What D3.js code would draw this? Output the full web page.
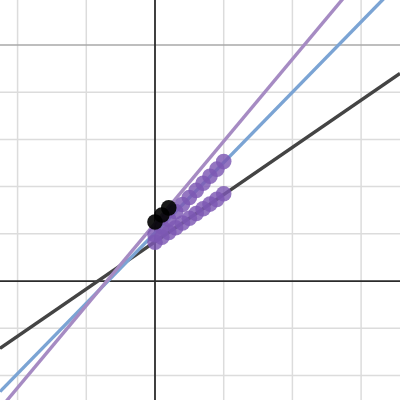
<!DOCTYPE html>
<html><head><meta charset="utf-8">
<script src="https://cdn.jsdelivr.net/npm/d3@7"></script>
<style>html,body{margin:0;padding:0;background:#fff;}svg{display:block;}</style>
</head><body>
<script>
// Data (x in grid units, y in grid units)
const xDomain = [-2.256, 3.566];
const yDomain = [-2.52, 5.953];
const xGridTicks = [-2, -1, 0, 1, 2, 3];
const yMinorTicks = [-2, -1, 1, 2, 3, 4];
const yMajorTicks = [5];
const pointX = [0, 0.1, 0.2, 0.3, 0.4, 0.5, 0.6, 0.7, 0.8, 0.9, 1.0];
const upperY = [0.98, 1.15, 1.31, 1.47, 1.62, 1.77, 1.92, 2.07, 2.22, 2.37, 2.53];
const lowerY = [0.82, 0.93, 1.03, 1.13, 1.23, 1.33, 1.43, 1.53, 1.63, 1.73, 1.85];
const blackX = [0, 0.1, 0.2];
const blackY = [1.25, 1.40, 1.55];
const lineNames = ["black", "blue", "purple"];
const lineIntercepts = [0.83, 1.02, 1.22];
const lineSlopes = [1.0, 1.49, 1.74];
const lineColors = ["#444444", "#7ba4d4", "#a68bc3"];

const W = 400, H = 400;
const x = d3.scaleLinear().domain(xDomain).range([0, W]);
const y = d3.scaleLinear().domain(yDomain).range([H, 0]);

const svg = d3.select("body").append("svg").attr("width", W).attr("height", H);
svg.append("rect").attr("width", W).attr("height", H).attr("fill", "#fff");

// grid
svg.append("g").selectAll("line").data(xGridTicks.filter(d => d !== 0)).join("line")
  .attr("x1", d => x(d)).attr("x2", d => x(d)).attr("y1", 0).attr("y2", H)
  .attr("stroke", "#dcdcdc").attr("stroke-width", 1.5);
svg.append("g").selectAll("line").data(yMinorTicks).join("line")
  .attr("y1", d => y(d)).attr("y2", d => y(d)).attr("x1", 0).attr("x2", W)
  .attr("stroke", "#dcdcdc").attr("stroke-width", 1.5);
svg.append("g").selectAll("line").data(yMajorTicks).join("line")
  .attr("y1", d => y(d)).attr("y2", d => y(d)).attr("x1", 0).attr("x2", W)
  .attr("stroke", "#a8a8a8").attr("stroke-width", 1.5);

// axes
svg.append("line").attr("x1", x(0)).attr("x2", x(0)).attr("y1", 0).attr("y2", H)
  .attr("stroke", "#2b2b2b").attr("stroke-width", 1.8);
svg.append("line").attr("y1", y(0)).attr("y2", y(0)).attr("x1", 0).attr("x2", W)
  .attr("stroke", "#2b2b2b").attr("stroke-width", 1.8);

const pts = pointX.map((d, i) => ({x: d, y: upperY[i]})).concat(pointX.map((d, i) => ({x: d, y: lowerY[i]})));

// lines
const lineData = lineNames.map((n, i) => ({name: n, b: lineIntercepts[i], m: lineSlopes[i], c: lineColors[i]}));
const lineGen = d3.line().x(d => x(d[0])).y(d => y(d[1]));
svg.append("g").selectAll("path").data(lineData).join("path")
  .attr("d", d => lineGen([[xDomain[0], d.b + d.m * xDomain[0]], [xDomain[1], d.b + d.m * xDomain[1]]]))
  .attr("stroke", d => d.c).attr("stroke-width", 3.4).attr("fill", "none");

svg.append("g").selectAll("circle").data(pts).join("circle")
  .attr("cx", d => x(d.x)).attr("cy", d => y(d.y)).attr("r", 7.8)
  .attr("fill", "#7d58b3").attr("fill-opacity", 0.82);

svg.append("g").selectAll("circle").data(blackX.map((d, i) => ({x: d, y: blackY[i]}))).join("circle")
  .attr("cx", d => x(d.x)).attr("cy", d => y(d.y)).attr("r", 7.8)
  .attr("fill", "#000").attr("fill-opacity", 0.9);
</script>
</body></html>
